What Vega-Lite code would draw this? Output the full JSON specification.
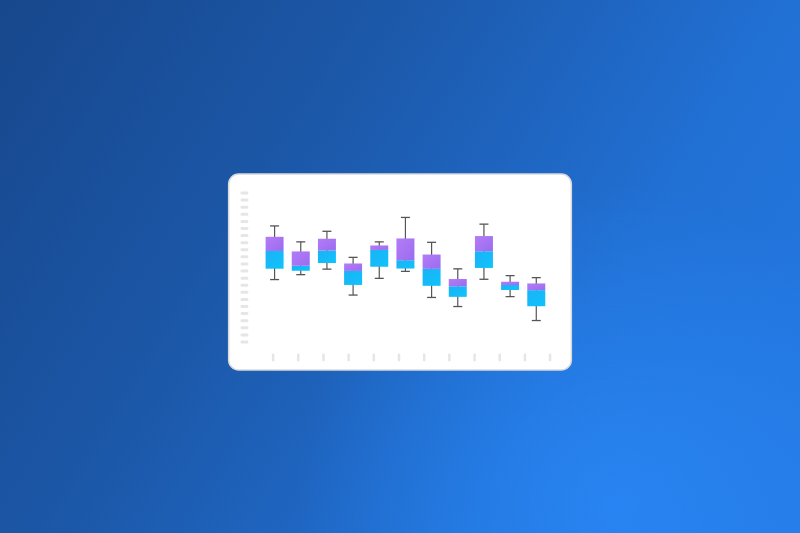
{
  "$schema": "https://vega.github.io/schema/vega-lite/v6.json",
  "width": 800,
  "height": 533,
  "padding": 0,
  "autosize": {"type": "fit", "contains": "padding"},
  "config": {"view": {"stroke": null}},
  "datasets": {
    "one": [{}],
    "boxes": [
      {"i": 1, "wlo": 41.9, "q1": 49.2, "med": 61.1, "q3": 70.6, "whi": 77.9},
      {"i": 2, "wlo": 45.2, "q1": 47.8, "med": 51.2, "q3": 60.8, "whi": 67.2},
      {"i": 3, "wlo": 48.9, "q1": 53.0, "med": 61.4, "q3": 69.3, "whi": 74.3},
      {"i": 4, "wlo": 31.5, "q1": 38.3, "med": 47.7, "q3": 52.7, "whi": 56.8},
      {"i": 5, "wlo": 42.7, "q1": 50.5, "med": 61.8, "q3": 64.8, "whi": 67.2},
      {"i": 6, "wlo": 47.4, "q1": 49.3, "med": 54.9, "q3": 69.5, "whi": 83.6},
      {"i": 7, "wlo": 29.9, "q1": 37.7, "med": 49.1, "q3": 58.7, "whi": 66.9},
      {"i": 8, "wlo": 23.8, "q1": 30.3, "med": 37.4, "q3": 42.3, "whi": 49.1},
      {"i": 9, "wlo": 42.1, "q1": 49.7, "med": 60.9, "q3": 71.1, "whi": 79.1},
      {"i": 10, "wlo": 30.5, "q1": 34.9, "med": 38.2, "q3": 40.5, "whi": 44.6},
      {"i": 11, "wlo": 14.4, "q1": 24.0, "med": 34.8, "q3": 39.3, "whi": 43.2}
    ],
    "yticks": [
      {"v": 0}, {"v": 4.76}, {"v": 9.52}, {"v": 14.29}, {"v": 19.05}, {"v": 23.81},
      {"v": 28.57}, {"v": 33.33}, {"v": 38.1}, {"v": 42.86}, {"v": 47.62}, {"v": 52.38},
      {"v": 57.14}, {"v": 61.9}, {"v": 66.67}, {"v": 71.43}, {"v": 76.19}, {"v": 80.95},
      {"v": 85.71}, {"v": 90.48}, {"v": 95.24}, {"v": 100}
    ],
    "xticks": [
      {"p": 0.943}, {"p": 1.905}, {"p": 2.868}, {"p": 3.83}, {"p": 4.792}, {"p": 5.755},
      {"p": 6.717}, {"p": 7.679}, {"p": 8.642}, {"p": 9.604}, {"p": 10.566}, {"p": 11.528}
    ]
  },
  "layer": [
    {
      "data": {"name": "one"},
      "mark": {
        "type": "rect",
        "color": {
          "gradient": "linear", "x1": 0, "y1": 0, "x2": 1.207, "y2": 0.493,
          "stops": [
            {"offset": 0, "color": "#17478c"},
            {"offset": 0.35, "color": "#1c58a9"},
            {"offset": 0.7, "color": "#2170d4"},
            {"offset": 1, "color": "#2479e4"}
          ]
        }
      },
      "encoding": {}
    },
    {
      "data": {"name": "one"},
      "mark": {
        "type": "rect",
        "color": {
          "gradient": "radial", "x1": 0.77, "y1": 0.8, "r1": 0, "x2": 0.77, "y2": 0.8, "r2": 0.4,
          "stops": [
            {"offset": 0, "color": "rgba(42,138,250,0.75)"},
            {"offset": 1, "color": "rgba(42,138,250,0)"}
          ]
        }
      },
      "encoding": {}
    },
    {
      "data": {"name": "one"},
      "mark": {"type": "rect", "fill": "#ffffff", "cornerRadius": 10, "stroke": "#d9d9d9", "strokeWidth": 1.5},
      "encoding": {
        "x": {"datum": -0.755, "type": "quantitative", "scale": {"domain": [-9.302, 20.887], "nice": false, "zero": false}, "axis": null},
        "x2": {"datum": 12.34},
        "y": {"datum": 112.75, "type": "quantitative", "scale": {"domain": [-128.19, 229.53], "nice": false, "zero": false}, "axis": null},
        "y2": {"datum": -18.79}
      }
    },
    {
      "data": {"name": "yticks"},
      "mark": {"type": "tick", "orient": "horizontal", "size": 8, "thickness": 3, "color": "#e6e6e6", "opacity": 1, "cornerRadius": 1.5},
      "encoding": {
        "x": {"datum": -0.151, "type": "quantitative", "axis": null},
        "y": {"field": "v", "type": "quantitative", "axis": null}
      }
    },
    {
      "data": {"name": "xticks"},
      "mark": {"type": "tick", "orient": "vertical", "size": 8, "thickness": 2.5, "color": "#e6e6e6", "opacity": 1, "cornerRadius": 1.2},
      "encoding": {
        "x": {"field": "p", "type": "quantitative", "axis": null},
        "y": {"datum": -10.4, "type": "quantitative", "axis": null}
      }
    },
    {
      "data": {"name": "boxes"},
      "mark": {"type": "rule", "color": "#555555", "strokeWidth": 1.2},
      "encoding": {
        "x": {"field": "i", "type": "quantitative", "axis": null},
        "y": {"field": "wlo", "type": "quantitative", "axis": null},
        "y2": {"field": "whi"}
      }
    },
    {
      "data": {"name": "boxes"},
      "mark": {"type": "tick", "orient": "horizontal", "size": 9, "thickness": 1.3, "color": "#555555", "opacity": 1},
      "encoding": {
        "x": {"field": "i", "type": "quantitative", "axis": null},
        "y": {"field": "whi", "type": "quantitative", "axis": null}
      }
    },
    {
      "data": {"name": "boxes"},
      "mark": {"type": "tick", "orient": "horizontal", "size": 9, "thickness": 1.3, "color": "#555555", "opacity": 1},
      "encoding": {
        "x": {"field": "i", "type": "quantitative", "axis": null},
        "y": {"field": "wlo", "type": "quantitative", "axis": null}
      }
    },
    {
      "data": {"name": "boxes"},
      "mark": {
        "type": "bar", "width": 18,
        "color": {
          "gradient": "linear", "x1": 0, "y1": 0, "x2": 1, "y2": 1,
          "stops": [
            {"offset": 0, "color": "#1bb2f6"},
            {"offset": 1, "color": "#0fc3fb"}
          ]
        }
      },
      "encoding": {
        "x": {"field": "i", "type": "quantitative", "axis": null},
        "y": {"field": "q1", "type": "quantitative", "axis": null},
        "y2": {"field": "med"}
      }
    },
    {
      "data": {"name": "boxes"},
      "mark": {
        "type": "bar", "width": 18,
        "color": {
          "gradient": "linear", "x1": 0, "y1": 0, "x2": 1, "y2": 1,
          "stops": [
            {"offset": 0, "color": "#b47cf6"},
            {"offset": 1, "color": "#9a6cf0"}
          ]
        }
      },
      "encoding": {
        "x": {"field": "i", "type": "quantitative", "axis": null},
        "y": {"field": "med", "type": "quantitative", "axis": null},
        "y2": {"field": "q3"}
      }
    }
  ]
}
